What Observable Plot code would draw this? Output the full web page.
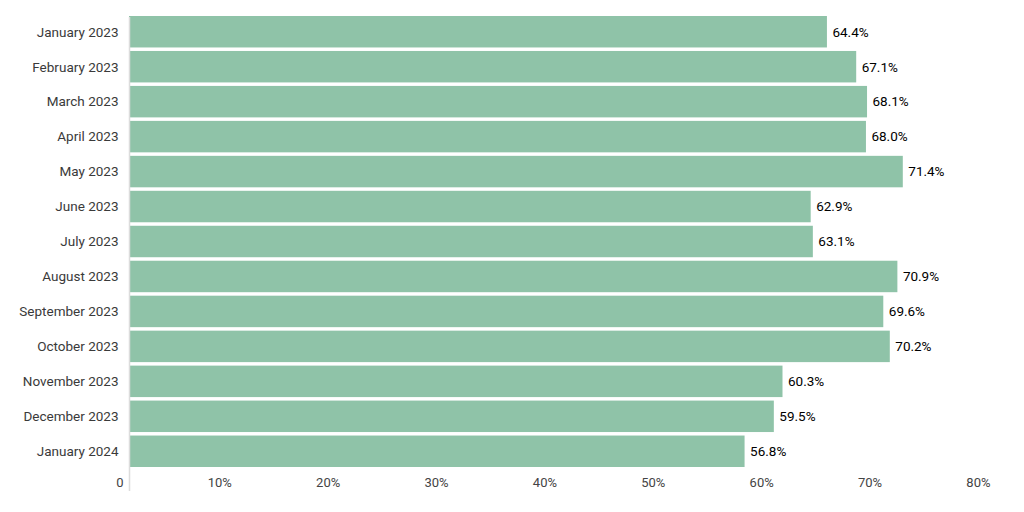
<!DOCTYPE html>
<html>
<head>
<meta charset="utf-8">
<script src="https://cdn.jsdelivr.net/npm/d3@7"></script>
<script src="https://cdn.jsdelivr.net/npm/@observablehq/plot@0.6"></script>
<style>
  html, body { margin: 0; padding: 0; background: #fff; }
  #chart { width: 1024px; height: 512px; }
  svg { font-family: Roboto, "Noto Sans", sans-serif; }
</style>
</head>
<body>
<div id="chart"></div>
<script>
const months = ["January 2023","February 2023","March 2023","April 2023","May 2023","June 2023","July 2023","August 2023","September 2023","October 2023","November 2023","December 2023","January 2024"];
const values = [64.4, 67.1, 68.1, 68.0, 71.4, 62.9, 63.1, 70.9, 69.6, 70.2, 60.3, 59.5, 56.8];
const xTicks = [0, 10, 20, 30, 40, 50, 60, 70, 80];

const data = months.map((m, i) => ({month: m, value: values[i]}));

const chart = Plot.plot({
  width: 1024,
  height: 512,
  marginTop: 16,
  marginBottom: 45,
  marginLeft: 129,
  marginRight: 28,
  style: {fontFamily: "Roboto, 'Noto Sans', sans-serif", fontSize: "13px", background: "#fff"},
  x: {domain: [0, 80]},
  y: {domain: months, paddingInner: 0.1, paddingOuter: 0, round: false, label: null},
  marks: [
    Plot.barX(data, {x: "value", y: "month", fill: "#8fc3a8"}),
    Plot.ruleX([0], {stroke: "#dcdcdc", strokeWidth: 1.5, insetTop: 1, insetBottom: -24}),
    Plot.text(data, {x: "value", y: "month", text: d => d.value.toFixed(1) + "%", textAnchor: "start", dx: 5, fill: "#000", fontSize: 13.5}),
    Plot.axisY({tickSize: 0, tickPadding: 11, label: null, fill: "#3a3a3a", fontSize: 13.5}),
    Plot.axisX({ticks: xTicks, tickSize: 0, textAnchor: "end", dx: -6, dy: 1, label: null, fill: "#444", fontSize: 13,
      tickFormat: d => d === 0 ? "0" : d + "%"})
  ]
});
document.getElementById("chart").appendChild(chart);
</script>
</body>
</html>
